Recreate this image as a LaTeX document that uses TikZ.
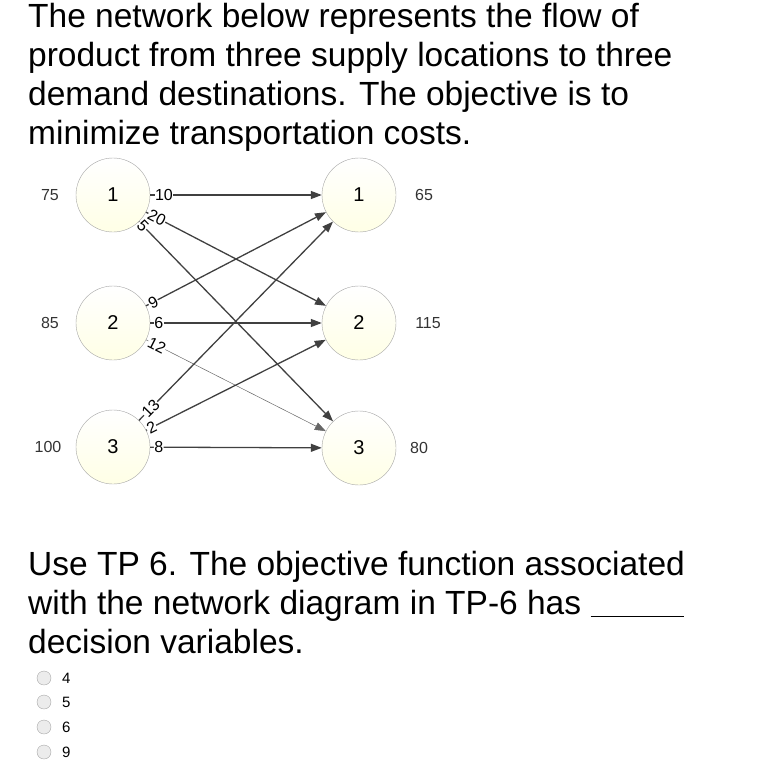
\documentclass[tikz,border=0pt]{standalone}
\usepackage{fontspec}
\setmainfont{Liberation Sans}
\usetikzlibrary{arrows.meta}
\begin{document}
\begin{tikzpicture}[x=1pt,y=-1pt,
  nd/.style={circle,draw=gray!70,minimum size=74pt,inner sep=0pt,top color=white,bottom color=yellow!10!white,font=\fontsize{20}{20}\selectfont},
  sup/.style={font=\fontsize{16}{16}\selectfont,text=black!80},
  ar/.style={draw=black!75,line width=1.3pt,-{Triangle[length=11pt,width=8pt]}},
  thin/.style={draw=black!60,line width=0.5pt,-{Triangle[length=11pt,width=8pt]}},
  lb/.style={font=\fontsize{16}{16}\selectfont,fill=white,inner sep=0.5pt,sloped},
  big/.style={font=\fontsize{33.5}{39}\selectfont,anchor=north west,align=left,inner sep=0pt},
  opt/.style={font=\fontsize{15}{15}\selectfont,anchor=west,inner sep=0pt}]
\useasboundingbox (0,0) rectangle (770,770);
\node[big] (t) at (28,3) {The network below represents the flow of\\product from three supply locations to three\\demand destinations. The objective is to\\minimize transportation costs.};
\node[nd] (s1) at (113,195) {1};
\node[nd] (s2) at (113,323) {2};
\node[nd] (s3) at (113,447) {3};
\node[nd] (d1) at (359,195) {1};
\node[nd] (d2) at (359,323) {2};
\node[nd] (d3) at (359,448) {3};
\node[sup] (a1) at (50,195) {75};
\node[sup] (a2) at (50,323) {85};
\node[sup] (a3) at (48,447) {100};
\node[sup] (b1) at (424,195) {65};
\node[sup] (b2) at (428,323) {115};
\node[sup] (b3) at (419,448) {80};
\draw[ar] (s1) -- node[lb,pos=0.08]{10} (d1);
\draw[ar] (s1) -- node[lb,pos=0.06]{20} (d2);
\draw[ar] (s1) -- node[lb,pos=0.02]{5} (d3);
\draw[ar] (s2) -- node[lb,pos=0.04]{9} (d1);
\draw[ar] (s2) -- node[lb,pos=0.05]{6} (d2);
\draw[thin] (s2) -- node[lb,pos=0.06]{12} (d3);
\draw[ar] (s3) -- node[lb,pos=0.06]{13} (d1);
\draw[ar] (s3) -- node[lb,pos=0.03]{2} (d2);
\draw[ar] (s3) -- node[lb,pos=0.05]{8} (d3);
\node[big] (q) at (28,551) {Use TP 6. The objective function associated\\with the network diagram in TP-6 has \underline{\hspace{2.8em}}\\decision variables.};
\foreach \v/\yy in {4/678,5/702,6/727,9/752}{
  \draw[gray!70,fill=gray!15] (44,\yy) circle (7pt);
  \node[opt] (o\v) at (62,\yy) {\v};
}
\end{tikzpicture}
\end{document}
